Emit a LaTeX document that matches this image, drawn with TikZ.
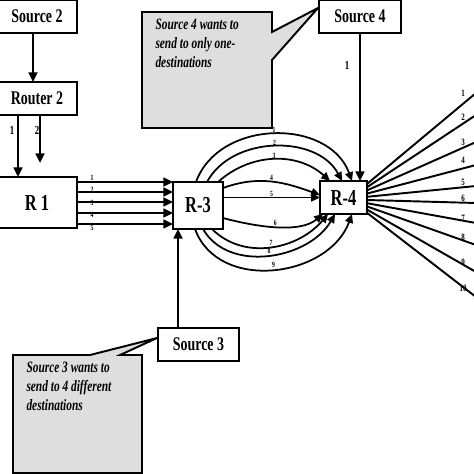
\documentclass[tikz,border=0pt]{standalone}
\usepackage{fontspec}
\setmainfont{Liberation Serif}
\newfontfamily\diagfont[FakeStretch=0.72]{Liberation Serif}
\usetikzlibrary{arrows.meta, positioning, calc, backgrounds}
\definecolor{notegray}{RGB}{222,222,222}

\begin{document}
\begin{tikzpicture}[
    x=0.02cm, y=0.02cm,
    box/.style={draw, line width=1.1pt, fill=white, inner sep=0pt, outer sep=0pt, align=center, font=\diagfont\bfseries\fontsize{11}{12}\selectfont},
    router/.style={box, font=\diagfont\bfseries\fontsize{13}{14}\selectfont},
    note/.style={inner xsep=0.27cm, inner ysep=0.15cm, outer sep=0pt, font=\diagfont\bfseries\itshape\fontsize{9}{10.8}\selectfont},
    notefill/.style={draw, line width=1.1pt, fill=notegray, line join=miter},
    arrow/.style={-{Triangle[length=5.5pt, width=5pt]}, line width=1.3pt},
    arcline/.style={-{Triangle[length=5pt, width=4.5pt]}, line width=1pt},
    fanline/.style={line width=1.1pt},
    lbl/.style={font=\diagfont\bfseries\fontsize{7}{8}\selectfont, inner sep=0.5pt},
    tinylbl/.style={font=\diagfont\bfseries\fontsize{4.5}{5}\selectfont, inner sep=0.3pt},
    fanlbl/.style={font=\diagfont\bfseries\fontsize{5.5}{6}\selectfont, inner sep=0.3pt}
]
\useasboundingbox (0,0) rectangle (474,-474);

% Sources and routers
\node[box, minimum width=1.6cm, minimum height=0.66cm] (src2) at (37,-16.5) {Source 2};
\node[box, minimum width=1.6cm, minimum height=0.66cm, below=0.98cm of src2] (router2) {Router 2};
\node[router, minimum width=1.6cm, minimum height=1.02cm, below=1.24cm of router2] (r1) {R 1};
\node[router, minimum width=1.0cm, minimum height=0.94cm] (r3) at (198,-205.5) {R-3};
\node[router, minimum width=0.94cm, minimum height=0.66cm] (r4) at (343.5,-197.5) {R-4};
\node[box, minimum width=1.64cm, minimum height=0.66cm] (src4) at (360,-16.5) {Source 4};
\node[box, minimum width=1.62cm, minimum height=0.66cm] (src3) at (198.5,-344.5) {Source 3};

% Notes
\node[note] (note4) at (207,-70) {\parbox[t][2.02cm][t]{2.06cm}{Source 4 wants to\\send to only one-\\destinations}};
\node[note] (note3) at (77.5,-414) {\parbox[t][2.06cm][t]{2.04cm}{Source 3 wants to\\send to 4 different\\destinations}};
\begin{scope}[on background layer]
\filldraw[notefill] (note4.north west) -- (note4.north east) -- ($(note4.north east)+(0,-20)$)
    -- ($(src4.north west)+(-1,-8)$) -- ($(note4.north east)+(0,-48)$)
    -- (note4.south east) -- (note4.south west) -- cycle;
\filldraw[notefill] (note3.north west) -- ($(note3.north west)+(77,0)$)
    -- ($(src3.west)+(-1,6.5)$) -- ($(note3.north west)+(107,0)$)
    -- (note3.north east) -- (note3.south east) -- (note3.south west) -- cycle;
\end{scope}

% Arrows into R 1
\draw[arrow] ($(src2.south)+(-4,0)$) -- ($(router2.north)+(-4,0)$);
\coordinate (rt1) at ($(router2.south west)+(21,0)$);
\coordinate (rt2) at ($(router2.south west)+(43,0)$);
\coordinate (r1stop) at ($(r1.north)+(3,14)$);
\draw[arrow] (rt1) -- (rt1 |- r1.north);
\draw[arrow] (rt2) -- (rt2 |- r1stop);
\node[lbl] (rtlbl1) at (12,-130) {1};
\node[lbl] (rtlbl2) at (37,-130) {2};

% R 1 to R-3
\foreach \i/\y/\yl in {1/182/178, 2/192/190, 3/202/203, 4/213/215, 5/224/228} {
    \draw[arrow, line width=1.2pt] (r1.east |- 0,-\y) -- (r3.west |- 0,-\y);
    \node[tinylbl] (inlbl\i) at (92,-\yl) {\i};
}

% Source 3 and Source 4
\coordinate (s3up) at ($(r3.south west)+(5,0)$);
\draw[arrow] (s3up |- src3.north) -- (s3up);
\draw[arrow] (src4.south) -- node[lbl, left=5pt, pos=0.22] (s4lbl) {1} (src4.south |- r4.north);

% R-3 to R-4
\draw[arcline] ($(r3.north west)+(23,0)$) to[out=70, in=110, looseness=1.1] node[tinylbl, above] (alb1) {1} ($(r4.north west)+(32,0)$);
\draw[arcline] ($(r3.north west)+(34,0)$) to[out=62, in=118] node[tinylbl, above] (alb2) {2} ($(r4.north west)+(22,0)$);
\draw[arcline] ($(r3.north west)+(45,0)$) to[out=42, in=138] node[tinylbl, above] (alb3) {3} ($(r4.north west)+(10,0)$);
\draw[arcline] ($(r3.north east)+(0,-6)$) to[out=20, in=160] node[tinylbl, above] (alb4) {4} ($(r4.north west)+(0,-14)$);
\draw[arcline] (r3.east |- r4.west) -- node[tinylbl, above] (alb5) {5} (r4.west);
\draw[arcline] ($(r3.south east)+(0,11)$) to[out=-15, in=-140, looseness=0.8] node[tinylbl, above] (alb6) {6} ($(r4.south west)+(3,0)$);
\draw[arcline] ($(r3.south west)+(39,0)$) to[out=-45, in=-130] node[tinylbl, above] (alb7) {7} ($(r4.south west)+(8,0)$);
\draw[arcline] ($(r3.south west)+(30,0)$) to[out=-60, in=-120] node[tinylbl, above] (alb8) {8} ($(r4.south west)+(15,0)$);
\draw[arcline] ($(r3.south west)+(22,0)$) to[out=-70, in=-110, looseness=1.1] node[tinylbl, above] (alb9) {9} ($(r4.south west)+(32,0)$);

% Destinations
\foreach \i/\ye/\yl in {1/93/93, 2/115/117, 3/142/142, 4/165/160, 5/186/182, 6/203/198, 7/223/218, 8/245/237, 9/272/262, 10/297/288} {
    \coordinate (dest\i) at (476,-\ye);
    \draw[fanline] ($(r4.north east)+(0,{-3-3.2*(\i-1)})$) -- (dest\i);
    \node[fanlbl] (destlbl\i) at (463,-\yl) {\i};
}

\end{tikzpicture}
\end{document}
